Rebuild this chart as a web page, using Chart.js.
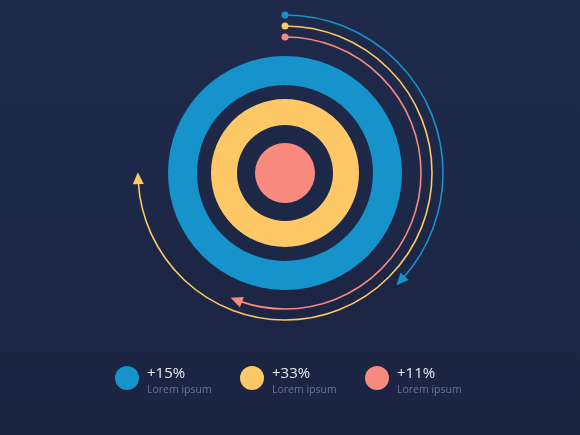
<!DOCTYPE html>
<html><head><meta charset="utf-8">
<script src="https://cdn.jsdelivr.net/npm/chart.js@4/dist/chart.umd.min.js"></script>
<style>
html,body{margin:0;padding:0;width:580px;height:435px;overflow:hidden;background:linear-gradient(#1f2a4b,#1b2441);font-family:"Open Sans",sans-serif}
#wrap{position:absolute;left:0;top:0;width:580px;height:435px}
.lg{position:absolute;top:366px}
.dot{position:absolute;left:0;top:0;width:24px;height:24px;border-radius:50%}
.v{position:absolute;left:32px;top:-4px;color:#e6e9f2;font-size:15px;white-space:nowrap}
.s{position:absolute;left:32px;top:16px;color:#6a7596;font-size:10.5px;white-space:nowrap}
</style></head><body>
<div id="wrap"><canvas id="c" width="580" height="435"></canvas></div>
<script>
const labels = ["+15%","+33%","+11%"];
const subLabels = ["Lorem ipsum","Lorem ipsum","Lorem ipsum"];
const values = [15,33,11];
const colors = ["#1793cb","#fdc865","#f98a80"];
const arcRadii = [158,147,136];
const arcEndDegrees = [133,268,201];
const legendX = [115,240,365];

const guides = {
  id:'guides',
  afterDraw(chart){
    const ctx=chart.ctx, m=chart.getDatasetMeta(0).data[0];
    const cx=m.x, cy=m.y;
    arcRadii.forEach((r,i)=>{
      const a0=-Math.PI/2, a1=a0+arcEndDegrees[i]*Math.PI/180;
      ctx.save();
      ctx.strokeStyle=colors[i]; ctx.fillStyle=colors[i]; ctx.lineWidth=1.6;
      ctx.beginPath(); ctx.arc(cx,cy,r,a0,a1-0.03); ctx.stroke();
      ctx.beginPath(); ctx.arc(cx,cy-r,3.5,0,Math.PI*2); ctx.fill();
      const ex=cx+r*Math.cos(a1), ey=cy+r*Math.sin(a1);
      const tx=-Math.sin(a1), ty=Math.cos(a1);
      const nx=Math.cos(a1), ny=Math.sin(a1);
      ctx.beginPath();
      ctx.moveTo(ex+tx*6,ey+ty*6);
      ctx.lineTo(ex-tx*6+nx*5.5,ey-ty*6+ny*5.5);
      ctx.lineTo(ex-tx*6-nx*5.5,ey-ty*6-ny*5.5);
      ctx.closePath(); ctx.fill();
      ctx.restore();
    });
  }
};

new Chart(document.getElementById('c'),{
  type:'doughnut',
  data:{labels:['v'],datasets:[
    {data:[values[0]],backgroundColor:colors[0],weight:29,borderWidth:0},
    {data:[1],backgroundColor:'rgba(0,0,0,0)',weight:14,borderWidth:0},
    {data:[values[1]],backgroundColor:colors[1],weight:26,borderWidth:0},
    {data:[1],backgroundColor:'rgba(0,0,0,0)',weight:18,borderWidth:0},
    {data:[values[2]],backgroundColor:colors[2],weight:30,borderWidth:0}
  ]},
  options:{responsive:false,animation:false,cutout:0,
    layout:{padding:{left:168,right:178,top:56,bottom:145}},
    plugins:{legend:{display:false},tooltip:{enabled:false}}},
  plugins:[guides]
});

const wrap=document.getElementById('wrap');
labels.forEach((l,i)=>{
  const d=document.createElement('div'); d.className='lg'; d.style.left=legendX[i]+'px';
  d.innerHTML=`<div class="dot" style="background:${colors[i]}"></div><div class="v">${l}</div><div class="s">${subLabels[i]}</div>`;
  wrap.appendChild(d);
});
</script></body></html>
